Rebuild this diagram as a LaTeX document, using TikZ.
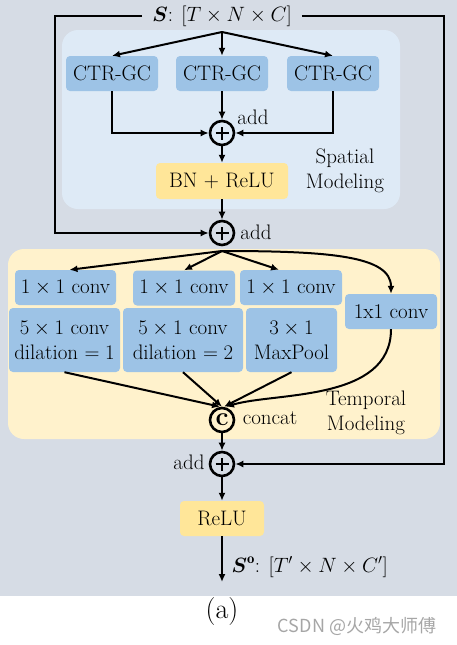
\documentclass[tikz,border=0pt]{standalone}
\usepackage{amsmath}
\usepackage{fontspec}
\newfontfamily\cjkfont{Noto Sans CJK SC}
\usetikzlibrary{arrows.meta, positioning, calc}

\definecolor{bggray}{HTML}{D6DCE5}
\definecolor{spatialbg}{HTML}{DEEAF6}
\definecolor{temporalbg}{HTML}{FFF2CC}
\definecolor{convblue}{HTML}{9DC3E6}
\definecolor{normyellow}{HTML}{FFE699}

\begin{document}
\begin{tikzpicture}
  [
    x                  = 1pt,
    y                  = -1pt,
    every node/.style  = {font=\fontsize{21}{25}\selectfont},
    block/.style       = {fill=convblue, rounded corners=4pt, inner sep=1pt,
                          minimum height=35pt, align=center},
    normblock/.style   = {block, fill=normyellow},
    addop/.style       = {circle, draw, line width=2.6pt, minimum size=24pt, inner sep=0pt,
                          path picture={
                            \draw[line width=2.8pt]
                              ([xshift=-6.5pt]path picture bounding box.center) --
                              ([xshift=6.5pt]path picture bounding box.center)
                              ([yshift=-6.5pt]path picture bounding box.center) --
                              ([yshift=6.5pt]path picture bounding box.center);}},
    catop/.style       = {circle, draw, line width=2.6pt, minimum size=24pt, inner sep=0pt,
                          font=\fontsize{26}{26}\selectfont\bfseries},
    link/.style        = {draw, line width=2pt, -{Latex[length=8pt, width=7pt]}},
    loop/.style        = {link, line width=2.4pt}
  ]
  \useasboundingbox (0,0) rectangle (457,645);
  \fill[bggray] (0,0) rectangle (457,596);

  % regions
  \fill[spatialbg, rounded corners=16pt] (62,30) rectangle (400,209);
  \fill[temporalbg, rounded corners=16pt] (8,249) rectangle (440,439);

  \node[inner xsep=10pt] (input) at (222,16) {$\boldsymbol{S}$: $[T \times N \times C]$};
  \coordinate (split1) at (222,32);

  % spatial modeling
  \node[block, minimum width=92pt] (ctr1) at (112,73.5) {CTR-GC};
  \node[block, minimum width=92pt] (ctr2) at (222,73.5) {CTR-GC};
  \node[block, minimum width=92pt] (ctr3) at (333,73.5) {CTR-GC};
  \node[addop] (add1) at (222,133) {};
  \node (add1lbl) at (253,117) {add};
  \node[normblock, minimum width=132pt, minimum height=36pt] (bnrelu) at (222,181) {BN + ReLU};
  \node[align=center] (spatiallbl) at (345,171) {Spatial\\Modeling};

  \draw[link] (split1) -- (ctr1.north);
  \draw[link] (split1) -- (ctr2.north);
  \draw[link] (split1) -- (ctr3.north);
  \draw[link] (ctr1) |- (add1);
  \draw[link] (ctr2) -- (add1);
  \draw[link] (ctr3) |- (add1);
  \draw[link] (add1) -- (bnrelu);

  \node[addop] (add2) at (222,233) {};
  \node (add2lbl) at (256,232) {add};
  \draw[link] (bnrelu) -- (add2);
  \draw[loop] (input.west) -| (55,233) -- (add2);

  % temporal modeling
  \coordinate (split2) at (222,251);
  \node[block, minimum width=101pt] (conva) at (65.5,287.5) {$1 \times 1$ conv};
  \node[block, minimum width=102pt] (convb) at (184,288) {$1 \times 1$ conv};
  \node[block, minimum width=102pt] (convc) at (291,287.5) {$1 \times 1$ conv};
  \node[block, minimum width=92pt] (convd) at (391,311.5) {1x1 conv};
  \node[block, minimum width=111pt, minimum height=64pt] (dila) at (64.5,340)
    {$5 \times 1$ conv\\dilation $=1$};
  \node[block, minimum width=120pt, minimum height=64pt] (dilb) at (183,340)
    {$5 \times 1$ conv\\dilation $=2$};
  \node[block, minimum width=91pt, minimum height=64pt] (pool) at (291.5,340)
    {$3 \times 1$\\MaxPool};
  \node[catop] (concat) at (222,420) {c};
  \node (concatlbl) at (270,418) {concat};
  \node[align=center] (temporallbl) at (366,413) {Temporal\\Modeling};

  \draw[link] (split2) -- ($(conva.north)+(4,0)$);
  \draw[link] (split2) -- (convb.north);
  \draw[link] (split2) -- ($(convc.north)+(-12,0)$);
  \draw[link] (split2) .. controls (330,251) and (391,256) .. (convd.north);
  \draw[link] (dila.south) -- ($(concat.north)+(-2,0)$);
  \draw[link] (dilb.south) -- (concat.north);
  \draw[link] (pool.south) -- ($(concat.north)+(2,0)$);
  \draw[link] (convd.south) .. controls (391,402) and (275,392) .. ($(concat.north)+(4,0)$);

  % output
  \node[addop] (add3) at (222,464) {};
  \node (add3lbl) at (189,462) {add};
  \node[normblock, minimum width=84pt] (relu) at (222,518.5) {ReLU};
  \coordinate (output) at (222,582);
  \node[anchor=west] (outlbl) at (228,567) {$\boldsymbol{S}^{\mathbf{o}}$: $[T' \times N \times C']$};

  \draw[link] (concat) -- (add3);
  \draw[loop] (input.east) -| (444,464) -- (add3);
  \draw[link] (add3) -- (relu);
  \draw[link] (relu) -- (output);

  \node[font=\fontsize{28}{30}\selectfont] (caption) at (222,612) {(a)};
  \node[font=\cjkfont\fontsize{18}{20}\selectfont, text=black!35] (mark) at (357,626) {CSDN @火鸡大师傅};
\end{tikzpicture}
\end{document}
